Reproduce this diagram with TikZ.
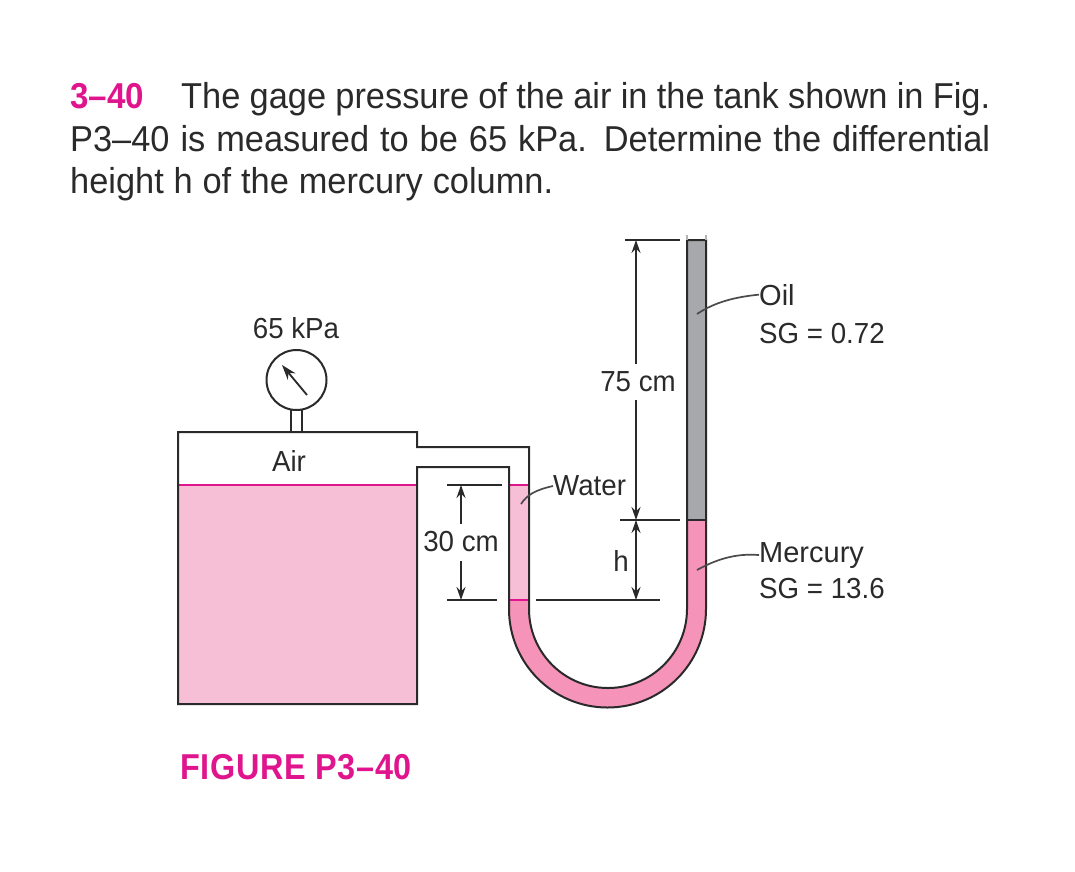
\documentclass[tikz,border=0pt]{standalone}
\usepackage{fontspec}
\setmainfont[FakeStretch=0.955]{Liberation Sans}
\newfontfamily\capfont[FakeStretch=0.90,LetterSpace=1.8]{Liberation Sans}
\newfontfamily\numfont[FakeStretch=0.92]{Liberation Sans}
\newfontfamily\widelab[FakeStretch=1.0]{Liberation Sans}
\usetikzlibrary{arrows.meta}
\definecolor{mag}{HTML}{E0148C}
\definecolor{water}{HTML}{F6BFD5}
\definecolor{merc}{HTML}{F593B8}
\definecolor{oilc}{HTML}{A6A8AB}
\definecolor{ink}{HTML}{2A2A2A}
\newcommand{\bodyfs}{\fontsize{36}{42}\selectfont}
\newcommand{\labfs}{\fontsize{29}{36}\selectfont}
\tikzset{
  x=1pt,y=-1pt,
  wall/.style={draw=ink,line width=2pt},
  dim/.style={draw=ink,line width=1.7pt},
  dimarrow/.style={draw=ink,line width=1.7pt,-{Stealth[length=13pt,width=9pt]}},
  lead/.style={draw=ink!85,line width=1.7pt},
  lab/.style={font=\labfs,text=ink,inner sep=0pt},
  bodytext/.style={font=\bodyfs,text=ink,anchor=base west,inner sep=0pt},
}
\begin{document}
\begin{tikzpicture}
\useasboundingbox (0,0) rectangle (1075,871);
% heading
\node[font=\bodyfs\numfont\bfseries,text=mag,anchor=base west,inner sep=0pt] (num) at (70,108) {3–40};
\node[bodytext] (l1) at (181,108) {\makebox[809pt][s]{The gage pressure of the air in the tank shown in Fig.}};
\node[bodytext] (l2) at (70,151) {\makebox[920pt][s]{P3–40 is measured to be 65 kPa. Determine the differential}};
\node[bodytext] (l3) at (70,193) {\makebox[483pt][s]{height h of the mercury column.}};
% tank fill
\fill[water] (178,485) rectangle (417,704);
\draw[mag,line width=2pt] (178,485) -- (417,485);
% U tube fills
\fill[water] (509,485) rectangle (529,600);
\fill[merc] (509,600) -- (509,609) arc[start angle=180,end angle=0,radius=98.5] -- (706,520) -- (687,520) -- (687,609)
   arc[start angle=0,end angle=180,radius=79] -- (529,600) -- cycle;
\fill[oilc] (687,240) rectangle (706,520);
\draw[mag,line width=2.4pt] (509,485) -- (529,485);
\draw[mag,line width=2.4pt] (509,600) -- (529,600);
% tank and pipe outline
\draw[wall,line join=miter] (417,704) -- (178,704) -- (178,432) -- (417,432) -- (417,447) -- (529,447) -- (529,609)
   arc[start angle=180,end angle=0,radius=79] -- (687,240) -- (706,240) -- (706,609)
   arc[start angle=0,end angle=180,radius=98.5] -- (509,467) -- (417,467) -- cycle;
\draw[draw=ink,line width=2pt] (687,520) -- (706,520);
\draw[draw=ink!35,line width=1.6pt] (687,240) -- (687,235) (706,240) -- (706,235);
% gauge
\draw[wall,fill=white] (291,408) rectangle (302,432);
\draw[wall,fill=white] (296.5,380) circle[radius=30];
\coordinate (gA) at (307,395);
\coordinate (gB) at (282,365);
\draw[draw=ink,line width=1.8pt,-{Stealth[length=15pt,width=10pt]}] (gA) -- (gB);
\node[lab] (kpa) at (296,328) {65 kPa};
\node[lab] (air) at (289,461) {Air};
% dimension 30 cm
\coordinate (d30t) at (461,485);
\coordinate (d30b) at (461,600);
\draw[dim] (447,485) -- (502,485);
\draw[dim] (447,600) -- (497,600);
\node[lab] (c30) at (461,542) {30 cm};
\draw[dimarrow] (461,524) -- (d30t);
\draw[dimarrow] (461,561) -- (d30b);
% dimension 75 cm and h
\coordinate (d75t) at (636,240);
\coordinate (d75b) at (636,520);
\coordinate (dhb) at (636,600);
\draw[dim] (625,240) -- (680,240);
\draw[dim] (620,520) -- (680,520);
\draw[dim] (536,600) -- (660,600);
\node[lab] (c75) at (638,382) {75 cm};
\draw[dimarrow] (636,364) -- (d75t);
\draw[dimarrow] (636,400) -- (d75b);
\draw[dimarrow] (636,560) -- (d75b);
\draw[dimarrow] (636,560) -- (dhb);
\node[lab] (h) at (621,561) {h};
% labels with leaders
\node[lab,anchor=west] (water) at (553,486) {Water};
\draw[lead] (water.west) .. controls (535,490) and (527,495) .. (521,504);
\node[lab,anchor=base west,font=\labfs\widelab] (oil) at (759,305) {Oil};
\node[lab,anchor=base west] (sgo) at (759,343) {SG = 0.72};
\draw[lead] (oil.west) .. controls (735,297) and (715,302) .. (697,314);
\node[lab,anchor=base west,font=\labfs\widelab] (merl) at (759,562) {Mercury};
\node[lab,anchor=base west] (sgm) at (759,598) {SG = 13.6};
\draw[lead] (merl.west) .. controls (735,553) and (715,560) .. (697,570);
% caption
\node[font=\fontsize{36}{42}\selectfont\capfont\bfseries,text=mag,anchor=base west,inner sep=0pt] (cap) at (180,779) {FIGURE P3–40};
\end{tikzpicture}
\end{document}
